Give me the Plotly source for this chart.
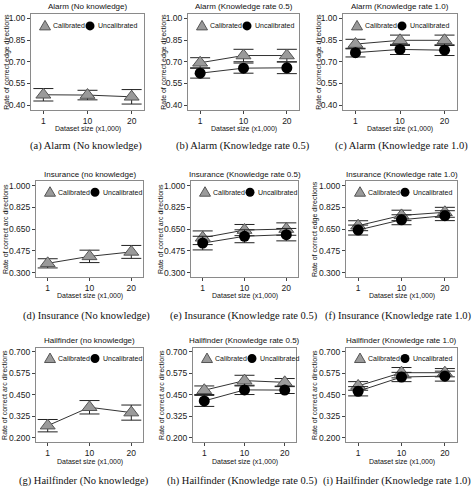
import plotly.graph_objects as go

W, H = 474, 490

# ---------------- data ----------------
sizes = ["1", "10", "20"]

alarm_none_cal = [0.472, 0.470, 0.458]
alarm_none_cal_err = [0.043, 0.033, 0.050]

alarm_05_cal = [0.693, 0.743, 0.743]
alarm_05_cal_err = [0.035, 0.043, 0.043]
alarm_05_unc = [0.621, 0.656, 0.658]
alarm_05_unc_err = [0.034, 0.035, 0.040]

alarm_10_cal = [0.822, 0.848, 0.848]
alarm_10_cal_err = [0.033, 0.036, 0.036]
alarm_10_unc = [0.763, 0.785, 0.780]
alarm_10_unc_err = [0.030, 0.035, 0.037]

ins_none_cal = [0.374, 0.430, 0.466]
ins_none_cal_err = [0.037, 0.050, 0.052]

ins_05_cal = [0.580, 0.642, 0.650]
ins_05_cal_err = [0.055, 0.045, 0.050]
ins_05_unc = [0.537, 0.592, 0.605]
ins_05_unc_err = [0.055, 0.052, 0.050]

ins_10_cal = [0.677, 0.760, 0.785]
ins_10_cal_err = [0.040, 0.042, 0.040]
ins_10_unc = [0.642, 0.725, 0.758]
ins_10_unc_err = [0.040, 0.040, 0.040]

hail_none_cal = [0.271, 0.378, 0.347]
hail_none_cal_err = [0.036, 0.039, 0.044]

hail_05_cal = [0.477, 0.533, 0.523]
hail_05_cal_err = [0.025, 0.031, 0.022]
hail_05_unc = [0.415, 0.479, 0.478]
hail_05_unc_err = [0.032, 0.027, 0.020]

hail_10_cal = [0.502, 0.579, 0.579]
hail_10_cal_err = [0.025, 0.030, 0.024]
hail_10_unc = [0.471, 0.554, 0.559]
hail_10_unc_err = [0.027, 0.027, 0.029]

row_ticks = [
    [0.40, 0.55, 0.70, 0.85, 1.00],
    [0.300, 0.475, 0.650, 0.825, 1.000],
    [0.200, 0.325, 0.450, 0.575, 0.700],
]
row_tick_fmt = ["{:.2f}", "{:.3f}", "{:.3f}"]
row_ranges = [[0.37, 1.03], [0.265, 1.035], [0.175, 0.725]]

panels = [
    dict(title="Alarm (No knowledge)", caption="(a) Alarm (No knowledge)",
         ytitle="Rate of correct edge directions",
         cal=alarm_none_cal, cal_err=alarm_none_cal_err, unc=None, unc_err=None),
    dict(title="Alarm (Knowledge rate 0.5)", caption="(b) Alarm (Knowledge rate 0.5)",
         ytitle="Rate of correct edge directions",
         cal=alarm_05_cal, cal_err=alarm_05_cal_err, unc=alarm_05_unc, unc_err=alarm_05_unc_err),
    dict(title="Alarm (Knowledge rate 1.0)", caption="(c) Alarm (Knowledge rate 1.0)",
         ytitle="Rate of correct edge directions",
         cal=alarm_10_cal, cal_err=alarm_10_cal_err, unc=alarm_10_unc, unc_err=alarm_10_unc_err),
    dict(title="Insurance (no knowledge)", caption="(d) Insurance (No knowledge)",
         ytitle="Rate of correct arc directions",
         cal=ins_none_cal, cal_err=ins_none_cal_err, unc=None, unc_err=None),
    dict(title="Insurance (Knowledge rate 0.5)", caption="(e) Insurance (Knowledge rate 0.5)",
         ytitle="Rate of correct arc directions",
         cal=ins_05_cal, cal_err=ins_05_cal_err, unc=ins_05_unc, unc_err=ins_05_unc_err),
    dict(title="Insurance (Knowledge rate 1.0)", caption="(f) Insurance (Knowledge rate 1.0)",
         ytitle="Rate of correct edge directions",
         cal=ins_10_cal, cal_err=ins_10_cal_err, unc=ins_10_unc, unc_err=ins_10_unc_err),
    dict(title="Hailfinder (no knowledge)", caption="(g) Hailfinder (No knowledge)",
         ytitle="Rate of correct arc directions",
         cal=hail_none_cal, cal_err=hail_none_cal_err, unc=None, unc_err=None),
    dict(title="Hailfinder (Knowledge rate 0.5)", caption="(h) Hailfinder (Knowledge rate 0.5)",
         ytitle="Rate of correct arc directions",
         cal=hail_05_cal, cal_err=hail_05_cal_err, unc=hail_05_unc, unc_err=hail_05_unc_err),
    dict(title="Hailfinder (Knowledge rate 1.0)", caption="(i) Hailfinder (Knowledge rate 1.0)",
         ytitle="Rate of correct arc directions",
         cal=hail_10_cal, cal_err=hail_10_cal_err, unc=hail_10_unc, unc_err=hail_10_unc_err),
]

# ---------------- layout geometry (pixels) ----------------
boxes = [  # left, right, top, bottom
    (31, 144, 13, 109), (188, 299, 13, 109), (343, 457, 13, 109),
    (36, 143, 181, 277), (191, 298, 181, 277), (346, 457, 181, 277),
    (36, 143, 348, 443), (193, 296, 348, 443), (346, 457, 348, 443),
]
caption_x = [86, 243, 401, 86, 244, 398, 84, 243, 397]
caption_y = [146, 316, 482]

SANS = "Liberation Sans, Arial, sans-serif"
SERIF = "Liberation Serif, Times New Roman, serif"


def px(x):
    return x / W


def py(y):
    return 1 - y / H


fig = go.Figure()
layout = dict(
    width=W, height=H, margin=dict(l=0, r=0, t=0, b=0),
    paper_bgcolor="white", plot_bgcolor="white", showlegend=False,
    font=dict(family=SANS, color="#222"),
)
annotations = []
shapes = []

for i, p in enumerate(panels):
    k = i + 1
    row = i // 3
    l, r, t, b = boxes[i]
    xa = "x" if k == 1 else f"x{k}"
    ya = "y" if k == 1 else f"y{k}"

    layout[f"xaxis{k}"] = dict(
        domain=[px(l), px(r)], anchor=ya, type="category",
        categoryorder="array", categoryarray=sizes,
        range=[-0.28, 2.28], showgrid=False, zeroline=False,
        showline=True, mirror=True, linecolor="#8a8a8a", linewidth=1,
        ticks="outside", ticklen=3, tickcolor="#444", tickwidth=1,
        tickfont=dict(size=8.5, color="#1a1a1a", family=SANS),
    )
    layout[f"yaxis{k}"] = dict(
        domain=[py(b), py(t)], anchor=xa, range=row_ranges[row],
        tickvals=row_ticks[row],
        ticktext=[row_tick_fmt[row].format(v) for v in row_ticks[row]],
        showgrid=False, zeroline=False,
        showline=True, mirror=True, linecolor="#8a8a8a", linewidth=1,
        ticks="outside", ticklen=3, tickcolor="#444", tickwidth=1,
        tickfont=dict(size=8.5, color="#1a1a1a", family=SANS),
    )

    fig.add_trace(go.Scatter(
        x=sizes, y=p["cal"], xaxis=xa, yaxis=ya, mode="lines+markers",
        line=dict(color="#333", width=1),
        marker=dict(symbol="triangle-up", size=13, color="#9a9a9a",
                    line=dict(color="#555", width=1)),
        error_y=dict(type="data", array=p["cal_err"], color="#222",
                     thickness=1, width=10),
        name="Calibrated",
    ))
    if p["unc"] is not None:
        fig.add_trace(go.Scatter(
            x=sizes, y=p["unc"], xaxis=xa, yaxis=ya, mode="lines+markers",
            line=dict(color="#333", width=1),
            marker=dict(symbol="circle", size=11, color="#000"),
            error_y=dict(type="data", array=p["unc_err"], color="#222",
                         thickness=1, width=10),
            name="Uncalibrated",
        ))

    cx = (l + r) / 2
    # panel title
    annotations.append(dict(text=p["title"], x=px(cx), y=py(t - 7),
                            xref="paper", yref="paper", showarrow=False,
                            xanchor="center", yanchor="middle",
                            font=dict(size=8, family=SANS, color="#111")))
    # x title
    annotations.append(dict(text="Dataset size (x1,000)", x=px(cx), y=py(b + 19.5),
                            xref="paper", yref="paper", showarrow=False,
                            xanchor="center", yanchor="middle",
                            font=dict(size=7, family=SANS, color="#111")))
    # y title
    yoff = 24 if row == 0 else 31
    annotations.append(dict(text=p["ytitle"], x=px(l - yoff), y=py((t + b) / 2),
                            xref="paper", yref="paper", showarrow=False,
                            textangle=-90, xanchor="center", yanchor="middle",
                            font=dict(size=7, family=SANS, color="#111")))
    # caption
    annotations.append(dict(text=p["caption"], x=px(caption_x[i]), y=py(caption_y[row]),
                            xref="paper", yref="paper", showarrow=False,
                            xanchor="center", yanchor="middle",
                            font=dict(size=10.5, family=SERIF, color="#111")))
    # legend (key glyphs + labels)
    ly = t + (12 if row == 0 else 11)
    tx = l + 14
    path = (f"M {px(tx - 5.5)} {py(ly + 4)} L {px(tx + 5.5)} {py(ly + 4)} "
            f"L {px(tx)} {py(ly - 5.5)} Z")
    shapes.append(dict(type="path", path=path, xref="paper", yref="paper",
                       fillcolor="#9a9a9a", line=dict(color="#555", width=1)))
    cxl = l + 59
    shapes.append(dict(type="circle", xref="paper", yref="paper",
                       x0=px(cxl - 4.5), x1=px(cxl + 4.5),
                       y0=py(ly + 4.5), y1=py(ly - 4.5),
                       fillcolor="#000", line=dict(color="#000", width=0)))
    annotations.append(dict(text="Calibrated", x=px(l + 20), y=py(ly),
                            xref="paper", yref="paper", showarrow=False,
                            xanchor="left", yanchor="middle",
                            font=dict(size=7, family=SANS, color="#111")))
    annotations.append(dict(text="Uncalibrated", x=px(l + 65), y=py(ly),
                            xref="paper", yref="paper", showarrow=False,
                            xanchor="left", yanchor="middle",
                            font=dict(size=7, family=SANS, color="#111")))

layout["annotations"] = annotations
layout["shapes"] = shapes
fig.update_layout(**layout)
fig.write_html("out.html")
